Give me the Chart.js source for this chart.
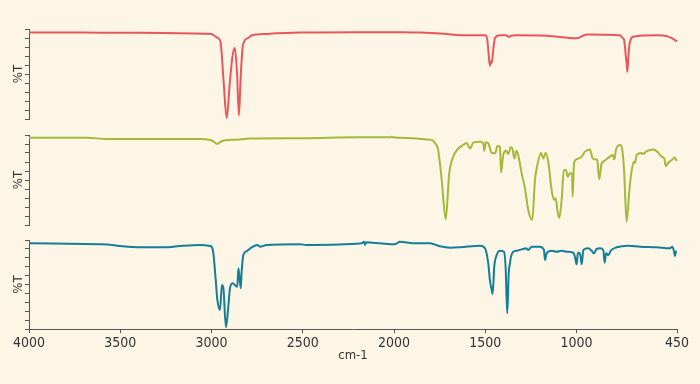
<!DOCTYPE html>
<html lang="en">
<head>
<meta charset="UTF-8" />
<title>IR spectra</title>
<style>
  html, body { margin: 0; padding: 0; background: #fdf5e6; }
  .wrap { position: relative; width: 700px; height: 384px; overflow: hidden; }
  .wrap canvas { position: absolute; left: 0; }
</style>
</head>
<body>
<div class="wrap">
  <canvas id="c1" width="700" height="126" style="top:0"></canvas>
  <canvas id="c2" width="700" height="106" style="top:126px"></canvas>
  <canvas id="c3" width="700" height="152" style="top:232px"></canvas>
</div>
<script src="https://cdn.jsdelivr.net/npm/chart.js"></script>
<script>
// x axis ticks (cm-1)
const xTicks = [4000, 3500, 3000, 2500, 2000, 1500, 1000, 450];

// top spectrum (red)
const redWn = [4000, 3700, 3400, 3100, 3000, 2985, 2965, 2950, 2935, 2917, 2900, 2885, 2872, 2860, 2850, 2840, 2828, 2800, 2778, 2700, 2516, 2200, 1950, 1858, 1749, 1622, 1502, 1490, 1482, 1475, 1470, 1465, 1455, 1447, 1420, 1387, 1378, 1370, 1360, 1329, 1164, 1000, 945, 762, 748, 740, 731, 725, 722, 716, 711, 689, 562, 498, 456, 450];
const redT  = [96.2, 96, 95.8, 95, 94.5, 92.5, 90, 85, 45, 1, 40, 70, 79, 50, 4, 48, 82, 90, 93, 94.5, 96, 96.5, 96.5, 96, 95, 93, 93, 89, 72, 59, 64, 62, 80, 90, 93, 93, 92, 91, 92.5, 93, 92.5, 89.6, 94, 93, 90, 88, 71, 60, 52.5, 70, 82, 91.5, 93, 91.5, 87, 86];

// middle spectrum (green)
const greenWn = [4000, 3682, 3573, 3063, 3008, 2990, 2970, 2950, 2937, 2861, 2790, 2500, 2205, 2020, 2013, 2005, 1900, 1821, 1785, 1776, 1765, 1758, 1739, 1717, 1698, 1676, 1648, 1621, 1602, 1584, 1566, 1529, 1511, 1506, 1497, 1484, 1465, 1447, 1433, 1420, 1414, 1402, 1387, 1374, 1361, 1352, 1341, 1329, 1320, 1301, 1283, 1265, 1243, 1228, 1215, 1195, 1182, 1170, 1155, 1137, 1124, 1115, 1104, 1095, 1082, 1070, 1058, 1049, 1036, 1025, 1022, 1014, 1000, 972, 954, 927, 912, 899, 887, 876, 863, 854, 817, 802, 793, 784, 762, 753, 740, 726, 711, 698, 686, 680, 671, 644, 635, 616, 580, 558, 534, 520, 511, 498, 480, 461, 456, 450];
const greenT  = [97, 97, 95.5, 95.5, 94.5, 93, 90, 92.5, 93.7, 94.8, 96, 96.3, 97.4, 97.4, 98, 97.4, 96.5, 95, 93.7, 91, 88, 83, 50, 6.3, 57, 76, 85, 89, 91, 85, 91.5, 92.6, 91, 82.6, 92, 91, 80, 79.6, 87.8, 87, 58, 77.8, 82.6, 79, 86.3, 85, 74, 82.6, 77.8, 57.4, 40.7, 16.7, 5.6, 50, 66.7, 80, 74, 80, 70, 39, 28, 29.6, 14.8, 8, 27.8, 61, 61, 53.7, 57.4, 57.4, 31.5, 68.5, 73, 76, 81.5, 84, 74, 73, 72, 50.7, 68.5, 70.4, 76, 77.8, 73, 84, 89, 87, 61, 3.7, 39, 61, 70.4, 69, 77.8, 80, 79, 82, 84, 81.5, 76, 74, 65.5, 69, 72, 75, 72, 73];

// bottom spectrum (teal)
const tealWn = [4000, 3611, 3573, 3502, 3392, 3266, 3156, 3063, 3008, 3000, 2990, 2977, 2968, 2954, 2943, 2935, 2921, 2908, 2899, 2884, 2872, 2859, 2853, 2848, 2840, 2835, 2826, 2807, 2780, 2749, 2735, 2698, 2516, 2479, 2177, 2165, 2159, 2154, 2077, 1995, 1968, 1895, 1803, 1749, 1694, 1639, 1529, 1502, 1484, 1475, 1465, 1460, 1451, 1438, 1420, 1398, 1389, 1380, 1372, 1365, 1360, 1347, 1326, 1301, 1277, 1265, 1246, 1201, 1179, 1173, 1164, 1137, 1109, 1082, 1054, 1018, 1009, 1000, 993, 985, 978, 972, 963, 936, 918, 905, 890, 872, 854, 846, 839, 826, 813, 780, 717, 651, 562, 489, 476, 467, 461, 456, 450];
const tealT  = [96.3, 95.2, 95, 93.3, 91.8, 91.8, 93.6, 94.4, 93.3, 92.5, 85, 55, 32.6, 21.3, 49.4, 45.7, 1.9, 25, 45.7, 51.3, 49.4, 47.5, 68, 60.7, 45.7, 64.4, 83, 87.6, 91.8, 94.4, 92.5, 94.4, 95.2, 94.4, 96.3, 98, 94.4, 97.4, 96.3, 95.2, 98, 96.3, 96.3, 93, 91.4, 91.8, 93.6, 90.7, 73.8, 55, 43.8, 39.3, 70, 83, 88, 86.8, 70, 17.6, 62.6, 73.8, 81, 86.8, 88, 89.5, 90.7, 88.8, 92.5, 92.5, 88.8, 77.5, 85, 88, 86.8, 88, 86.8, 85.7, 81, 72.7, 85, 85.7, 81, 72.7, 88.8, 90.7, 88, 85, 90, 90.7, 88.8, 74.5, 85, 83, 88, 91.8, 93.6, 92.5, 91.8, 90.7, 92.5, 88, 82, 86.8, 87];

const axisColor = '#555';
const textColor = '#333';
const fontFam = "'DejaVu Sans', sans-serif";

function makeChart(id, wn, t, color, padTop, padBottom, showX) {
  const ctx = document.getElementById(id).getContext('2d');
  return new Chart(ctx, {
    type: 'line',
    data: {
      datasets: [{
        data: wn.map((w, i) => ({ x: w, y: t[i] })),
        borderColor: color,
        borderWidth: 2,
        pointRadius: 0,
        fill: false,
        cubicInterpolationMode: 'monotone',
        clip: 4
      }]
    },
    options: {
      responsive: false,
      devicePixelRatio: 1,
      animation: false,
      events: [],
      layout: { padding: { left: 0, right: 23, top: padTop, bottom: padBottom } },
      plugins: { legend: { display: false }, tooltip: { enabled: false } },
      scales: {
        x: {
          type: 'linear',
          min: 450,
          max: 4000,
          reverse: true,
          display: showX,
          afterBuildTicks: s => { s.ticks = xTicks.map(v => ({ value: v })); },
          afterFit: s => { if (showX) s.height = 55; },
          border: { display: true, color: axisColor, width: 1 },
          grid: { drawOnChartArea: false, tickLength: 4, color: axisColor },
          ticks: {
            color: textColor,
            padding: 2,
            maxRotation: 0,
            callback: v => String(v),
            font: { family: fontFam, size: 14, weight: 'condensed' }
          },
          title: {
            display: true,
            text: 'cm-1',
            color: textColor,
            font: { family: fontFam, size: 13, weight: 'condensed' },
            padding: { top: 0, bottom: 21 }
          }
        },
        y: {
          min: 0,
          max: 100,
          afterFit: s => { s.width = 29; },
          border: { display: true, color: axisColor, width: 1 },
          grid: { drawOnChartArea: false, tickLength: 4, color: axisColor },
          ticks: { display: false, stepSize: 10 },
          title: {
            display: true,
            text: '%T',
            color: textColor,
            font: { family: fontFam, size: 13, weight: 'condensed' },
            padding: { top: 11, bottom: 0 }
          }
        }
      }
    }
  });
}

makeChart('c1', redWn, redT, '#e8575c', 29, 7, false);
makeChart('c2', greenWn, greenT, '#a4b83a', 9, 7, false);
makeChart('c3', tealWn, tealT, '#137e98', 8, 0, true);
</script>
</body>
</html>
